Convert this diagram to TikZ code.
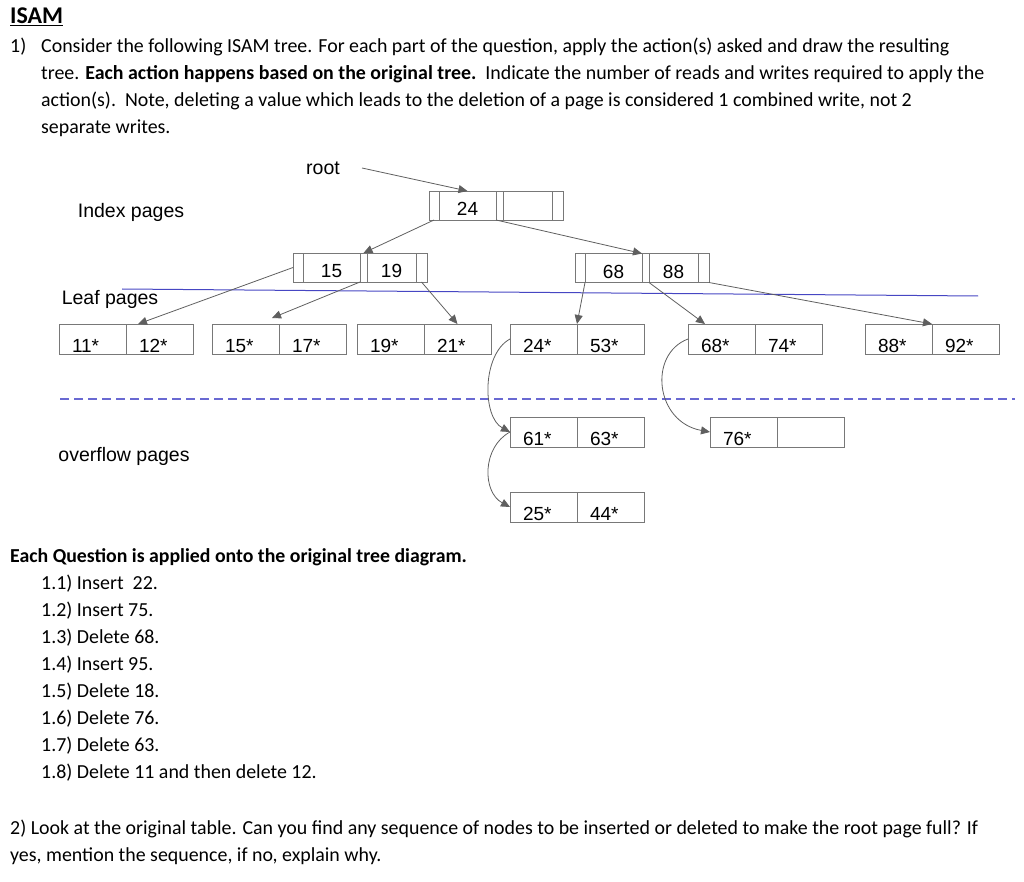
\documentclass[tikz,border=0pt]{standalone}
\usepackage{fontspec}
\setmainfont{Carlito}
\newfontfamily\arialfont{Liberation Sans}
\usetikzlibrary{positioning,arrows.meta}

\definecolor{boxgray}{RGB}{120,120,120}
\definecolor{arrowgray}{RGB}{95,95,95}
\definecolor{lineblue}{RGB}{70,70,195}
\definecolor{dashblue}{RGB}{105,105,210}

\tikzset{
  txt/.style={anchor=base west, inner sep=0pt, font=\fontsize{19.9}{27}\selectfont},
  lbl/.style={inner sep=0pt, font=\arialfont\fontsize{19.5}{19.5}\selectfont},
  cellbox/.style={draw=boxgray, line width=0.8pt, inner sep=0pt, outer sep=0pt, minimum height=29pt},
  ptrcell/.style={cellbox, minimum width=#1},
  keycell/.style={cellbox, minimum width=#1, font=\arialfont\fontsize{19}{19}\selectfont, text height=21pt, text depth=0pt},
  leafcell/.style={cellbox, minimum width=67pt, minimum height=30pt, text width=41pt, align=left,
    font=\arialfont\fontsize{19}{19}\selectfont, text height=26pt, text depth=0pt},
  ptr/.style={draw=arrowgray, line width=0.8pt, -{Triangle[length=9pt,width=8pt]}},
}

\begin{document}
\begin{tikzpicture}[x=1pt,y=-1pt]
    \useasboundingbox (0,0) rectangle (1024,882);

    % Question text
    \node[txt, font=\bfseries\fontsize{24}{24}\selectfont] (title) at (10,24) {\underline{ISAM}};
    \node[txt] (q1num) at (10,53) {1)};
    \node[txt] (q1a) at (41,53) {Consider the following ISAM tree. For each part of the question, apply the action(s) asked and draw the resulting};
    \node[txt] (q1b) at (41,80) {tree. \textbf{Each action happens based on the original tree.}\ \ Indicate the number of reads and writes required to apply the};
    \node[txt] (q1c) at (41,107) {action(s).\ \ Note, deleting a value which leads to the deletion of a page is considered 1 combined write, not 2};
    \node[txt] (q1d) at (41,134) {separate writes.};

    % Side labels
    \node[lbl] (rootlbl) at (323,168) {root};
    \node[lbl] (idxlbl) at (131,212) {Index pages};
    \node[lbl] (leaflbl) at (110,299) {Leaf pages};
    \node[lbl] (ovflbl) at (124,456) {overflow pages};

    % Level separators
    \draw[lineblue, line width=1pt] (122,289) coordinate (sepL) -- (978,296) coordinate (sepR);
    \draw[dashblue, line width=1.2pt, dash pattern=on 9pt off 5pt] (60,399) coordinate (ovL) -- (1015,399) coordinate (ovR);

    % Root index page
    \node[ptrcell=10pt, anchor=north west] (r-p0) at (429,191) {};
    \node[keycell=57pt, right=0pt of r-p0] (r-k1) {24};
    \node[ptrcell=7pt, right=0pt of r-k1] (r-p1) {};
    \node[keycell=49pt, right=0pt of r-p1] (r-k2) {};
    \node[ptrcell=11pt, right=0pt of r-k2] (r-p2) {};

    % Second level index pages
    \node[ptrcell=10pt, anchor=north west] (a-p0) at (293,253) {};
    \node[keycell=57pt, right=0pt of a-p0] (a-k1) {15};
    \node[ptrcell=7pt, right=0pt of a-k1] (a-p1) {};
    \node[keycell=49pt, right=0pt of a-p1] (a-k2) {19};
    \node[ptrcell=11pt, right=0pt of a-k2] (a-p2) {};

    \node[ptrcell=10pt, anchor=north west] (b-p0) at (575,253.5) {};
    \node[keycell=57pt, right=0pt of b-p0] (b-k1) {68};
    \node[ptrcell=7pt, right=0pt of b-k1] (b-p1) {};
    \node[keycell=49pt, right=0pt of b-p1] (b-k2) {88};
    \node[ptrcell=11pt, right=0pt of b-k2] (b-p2) {};

    % Leaf pages
    \pgfmathsetmacro{\leaftop}{324}
    \node[leafcell, anchor=north west] (l1a) at (59,\leaftop) {11*};
    \node[leafcell, right=0pt of l1a] (l1b) {12*};
    \node[leafcell, anchor=north west] (l2a) at (212,\leaftop) {15*};
    \node[leafcell, right=0pt of l2a] (l2b) {17*};
    \node[leafcell, anchor=north west] (l3a) at (357,\leaftop) {19*};
    \node[leafcell, right=0pt of l3a] (l3b) {21*};
    \node[leafcell, anchor=north west] (l4a) at (510,\leaftop) {24*};
    \node[leafcell, right=0pt of l4a] (l4b) {53*};
    \node[leafcell, anchor=north west] (l5a) at (688,\leaftop) {68*};
    \node[leafcell, right=0pt of l5a] (l5b) {74*};
    \node[leafcell, anchor=north west] (l6a) at (865,\leaftop) {88*};
    \node[leafcell, right=0pt of l6a] (l6b) {92*};

    % Overflow pages
    \node[leafcell, anchor=north west] (o1a) at (510,417) {61*};
    \node[leafcell, right=0pt of o1a] (o1b) {63*};
    \node[leafcell, anchor=north west] (o2a) at (510,492) {25*};
    \node[leafcell, right=0pt of o2a] (o2b) {44*};
    \node[leafcell, anchor=north west] (o3a) at (710,417) {76*};
    \node[leafcell, right=0pt of o3a] (o3b) {};

    % Pointers
    \draw[ptr] ([xshift=22pt]rootlbl.east) -- (r-k1.north);
    \draw[ptr] (r-p0.south) -- (a-p1.north);
    \draw[ptr] (r-p1.south west) -- (b-k1.north east);
    \draw[ptr] (a-p0.west) -- ([xshift=12pt]l1b.north west);
    \draw[ptr] (a-p1.south west) -- ([shift={(-7pt,6pt)}]l2a.north east);
    \draw[ptr] (a-p2.south) -- (l3b.north);
    \draw[ptr] (b-k1.south west) -- (l4a.north east);
    \draw[ptr] (b-p1.south east) -- ([xshift=17pt]l5a.north west);
    \draw[ptr] (b-p2.south east) -- (l6a.north east);

    % Overflow chains
    \draw[ptr] (l4a.west) .. controls +(-28,15) and +(-28,-15) .. (o1a.west);
    \draw[ptr] (o1a.west) .. controls +(-28,15) and +(-28,-15) .. (o2a.west);
    \draw[ptr] (l5a.west) .. controls +(-40,15) and +(-55,-10) .. (o3a.west);

    % Questions
    \node[txt, font=\bfseries\fontsize{19.8}{27}\selectfont] (qhead) at (10,562) {Each Question is applied onto the original tree diagram.};
    \node[txt] (q11) at (41,589) {1.1) Insert\ \ 22.};
    \node[txt] (q12) at (41,616) {1.2) Insert 75.};
    \node[txt] (q13) at (41,643) {1.3) Delete 68.};
    \node[txt] (q14) at (41,670) {1.4) Insert 95.};
    \node[txt] (q15) at (41,697) {1.5) Delete 18.};
    \node[txt] (q16) at (41,724) {1.6) Delete 76.};
    \node[txt] (q17) at (41,751) {1.7) Delete 63.};
    \node[txt] (q18) at (41,778) {1.8) Delete 11 and then delete 12.};

    \node[txt] (q2a) at (10,834) {2) Look at the original table. Can you find any sequence of nodes to be inserted or deleted to make the root page full? If};
    \node[txt] (q2b) at (10,861) {yes, mention the sequence, if no, explain why.};
\end{tikzpicture}
\end{document}
